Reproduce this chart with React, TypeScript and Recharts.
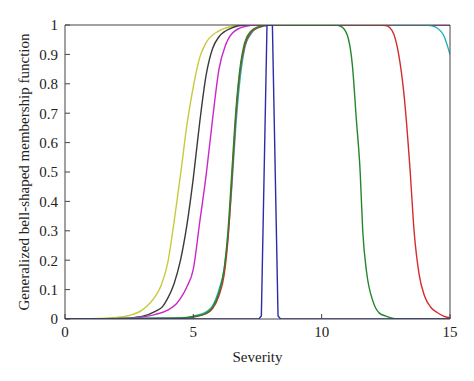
import React from "react";
import { LineChart, Line, XAxis, YAxis, Label } from "recharts";

// x ticks / y ticks
const xTicks = [0, 5, 10, 15];
const yTicks = [0, 0.1, 0.2, 0.3, 0.4, 0.5, 0.6, 0.7, 0.8, 0.9, 1];

// curves (severity, membership)
const yellowX = [0, 1, 2, 2.5, 3, 3.5, 3.75, 4, 4.25, 4.5, 4.75, 5, 5.25, 5.5, 6, 6.5, 7, 15];
const yellowY = [0, 0.001, 0.005, 0.012, 0.03, 0.075, 0.115, 0.19, 0.33, 0.49, 0.66, 0.79, 0.89, 0.94, 0.98, 0.995, 1, 1];

const blackX = [0, 2, 3, 3.5, 3.8, 4, 4.25, 4.5, 4.75, 5, 5.25, 5.5, 5.75, 6, 6.5, 7, 15];
const blackY = [0, 0.001, 0.009, 0.025, 0.042, 0.07, 0.12, 0.2, 0.32, 0.48, 0.67, 0.83, 0.92, 0.96, 0.99, 1, 1];

const magentaX = [0, 2, 3, 3.5, 4, 4.35, 4.5, 4.75, 5, 5.25, 5.5, 5.75, 6, 6.25, 6.5, 7, 7.5, 15];
const magentaY = [0, 0.001, 0.007, 0.015, 0.03, 0.053, 0.07, 0.11, 0.17, 0.33, 0.49, 0.68, 0.85, 0.93, 0.97, 0.995, 1, 1];

const greenX = [0, 4.5, 5, 5.5, 5.75, 6, 6.2, 6.35, 6.5, 6.65, 6.8, 7, 7.25, 7.5, 8, 10.5, 10.75, 11, 11.2, 11.35, 11.5, 11.6, 11.75, 12, 12.25, 12.5, 12.75, 13, 15];
const greenY = [0, 0.003, 0.008, 0.02, 0.04, 0.09, 0.17, 0.3, 0.5, 0.7, 0.84, 0.94, 0.98, 0.993, 1, 1, 0.995, 0.965, 0.86, 0.68, 0.5, 0.3, 0.16, 0.06, 0.02, 0.01, 0.003, 0, 0];

const redX = [0, 4.5, 5, 5.5, 5.75, 6, 6.2, 6.35, 6.5, 6.65, 6.8, 7, 7.25, 7.5, 8, 12.25, 12.5, 12.75, 13, 13.2, 13.45, 13.6, 13.8, 14, 14.25, 14.5, 14.75, 15];
const redY = [0, 0.002, 0.007, 0.018, 0.035, 0.08, 0.15, 0.27, 0.47, 0.68, 0.83, 0.93, 0.975, 0.99, 1, 1, 0.998, 0.98, 0.9, 0.77, 0.5, 0.3, 0.15, 0.08, 0.04, 0.022, 0.01, 0.004];

const cyanX = [0, 4.5, 5, 5.5, 5.75, 6, 6.2, 6.35, 6.5, 6.65, 6.8, 7, 7.25, 7.5, 8, 14, 14.25, 14.5, 14.75, 15];
const cyanY = [0, 0.004, 0.01, 0.024, 0.045, 0.1, 0.17, 0.28, 0.45, 0.65, 0.8, 0.92, 0.97, 0.99, 1, 1, 0.998, 0.99, 0.965, 0.9];

const blueX = [0, 7.55, 7.65, 7.87, 7.97, 8.08, 8.3, 8.4, 15];
const blueY = [0, 0, 0.01, 1, 1, 1, 0.01, 0, 0];

const zip = (xs: number[], ys: number[]) => xs.map((x, i) => ({ x, y: ys[i] }));

const series = [
  { name: "yellow", data: zip(yellowX, yellowY), color: "#c9c93a", type: "monotone" },
  { name: "black", data: zip(blackX, blackY), color: "#3a3a3a", type: "monotone" },
  { name: "magenta", data: zip(magentaX, magentaY), color: "#c828c8", type: "monotone" },
  { name: "cyan", data: zip(cyanX, cyanY), color: "#22b4b4", type: "monotone" },
  { name: "red", data: zip(redX, redY), color: "#d42c2c", type: "monotone" },
  { name: "green", data: zip(greenX, greenY), color: "#24862a", type: "monotone" },
  { name: "blue", data: zip(blueX, blueY), color: "#2c2ca8", type: "linear" },
];

const serif = "Liberation Serif";
const font = { fontFamily: serif, fontSize: 15, fill: "#222" };

const App = () => {
  return (
    <div style={{ position: "absolute", left: 0, top: 0, fontFamily: serif }}>
      <LineChart
        width={474}
        height={381}
        margin={{ top: 0, right: 0, left: 0, bottom: 0 }}
        style={{ fontFamily: serif }}
      >
        <XAxis
          dataKey="x"
          type="number"
          domain={[0, 15]}
          ticks={xTicks}
          height={62}
          tickSize={-5}
          tickMargin={12}
          stroke="#444"
          tick={font}
          allowDataOverflow
        >
          <Label value="Severity" position="insideBottom" offset={19} style={font} />
        </XAxis>
        <XAxis
          xAxisId="top"
          orientation="top"
          type="number"
          domain={[0, 15]}
          ticks={xTicks}
          height={25}
          tickSize={-5}
          tick={false}
          stroke="#444"
        />
        <YAxis
          type="number"
          domain={[0, 1]}
          ticks={yTicks}
          width={65}
          tickSize={-5}
          tickMargin={12}
          stroke="#444"
          tick={font}
          allowDataOverflow
        >
          <Label
            value="Generalized bell-shaped membership function"
            angle={-90}
            position="insideLeft"
            offset={24}
            style={{ ...font, textAnchor: "middle" }}
          />
        </YAxis>
        <YAxis
          yAxisId="right"
          orientation="right"
          type="number"
          domain={[0, 1]}
          ticks={yTicks}
          width={24}
          tickSize={-5}
          tick={false}
          stroke="#444"
        />
        {series.map((s) => (
          <Line
            key={s.name}
            data={s.data}
            dataKey="y"
            type={s.type as any}
            stroke={s.color}
            strokeWidth={1.4}
            dot={false}
            isAnimationActive={false}
          />
        ))}
      </LineChart>
    </div>
  );
};

export default App;
